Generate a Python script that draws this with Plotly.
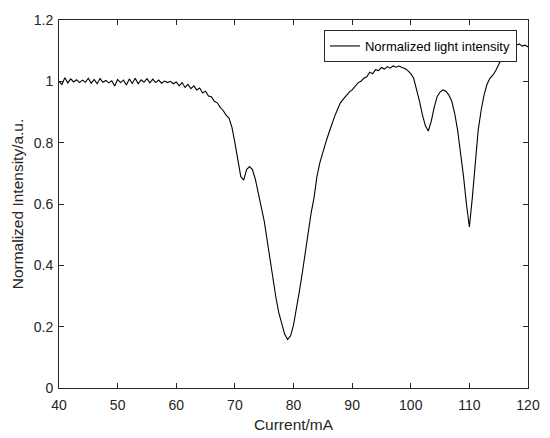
import plotly.graph_objects as go

current_mA = [40.0 + 0.5 * i for i in range(161)]
intensity = [
    1.000, 0.990, 1.012, 0.995, 1.008, 0.998, 1.005, 0.996, 1.004, 0.997,
    1.010, 0.994, 1.006, 0.992, 1.009, 0.997, 1.003, 0.995, 1.002, 0.985,
    1.006, 0.996, 1.004, 0.988, 1.008, 0.993, 1.010, 0.992, 1.005, 0.997,
    1.009, 0.995, 1.007, 0.996, 1.004, 0.994, 1.001, 0.996, 1.000, 0.992,
    0.998, 0.985, 0.996, 0.980, 0.990, 0.976, 0.985, 0.972, 0.978, 0.962,
    0.968, 0.952, 0.950, 0.935, 0.930, 0.915, 0.905, 0.890, 0.880, 0.850,
    0.800, 0.745, 0.690, 0.678, 0.712, 0.722, 0.712, 0.680, 0.640, 0.590,
    0.545, 0.480, 0.415, 0.355, 0.295, 0.245, 0.205, 0.175, 0.158, 0.170,
    0.205, 0.255, 0.315, 0.375, 0.440, 0.510, 0.570, 0.620, 0.690, 0.735,
    0.770, 0.800, 0.830, 0.860, 0.885, 0.908, 0.930, 0.942, 0.955, 0.965,
    0.972, 0.985, 0.995, 1.000, 1.010, 1.015, 1.030, 1.025, 1.038, 1.035,
    1.045, 1.040, 1.048, 1.043, 1.050, 1.046, 1.050, 1.045, 1.042, 1.035,
    1.025, 1.010, 0.975, 0.935, 0.890, 0.855, 0.838, 0.870, 0.915, 0.950,
    0.965, 0.972, 0.968, 0.955, 0.935, 0.895, 0.840, 0.770, 0.690, 0.600,
    0.525, 0.620, 0.740, 0.840, 0.905, 0.955, 0.990, 1.010, 1.020, 1.035,
    1.055, 1.075, 1.095, 1.110, 1.118, 1.125, 1.118, 1.122, 1.115, 1.118,
    1.112,
]
x_ticks = [40, 50, 60, 70, 80, 90, 100, 110, 120]
y_ticks = [0, 0.2, 0.4, 0.6, 0.8, 1.0, 1.2]
y_tick_labels = ["0", "0.2", "0.4", "0.6", "0.8", "1", "1.2"]

axis_color = "#262626"
family = "Liberation Sans, Arial, sans-serif"
tick_font = dict(family=family, size=14, color=axis_color)
title_font = dict(family=family, size=15.5, color=axis_color)

fig = go.Figure()
fig.add_trace(go.Scatter(
    x=current_mA, y=intensity, mode="lines",
    line=dict(color="black", width=1.1),
    name="Normalized light intensity",
))

common = dict(showline=True, linecolor=axis_color, linewidth=1, mirror="ticks",
              ticks="inside", ticklen=5, tickcolor=axis_color, showgrid=False,
              zeroline=False, tickfont=tick_font, automargin=False)
fig.update_xaxes(range=[40, 120], tickvals=x_ticks, ticklabelstandoff=4,
                 title=dict(text="Current/mA", font=title_font, standoff=7), **common)
fig.update_yaxes(range=[0, 1.2], tickvals=y_ticks, ticktext=y_tick_labels, ticklabelstandoff=2,
                 title=dict(text="Normalized Intensity/a.u.", font=title_font, standoff=6), **common)

# page body has an 8px margin, so the figure is sized to fit the 550x438 window
fig.update_layout(
    width=542, height=430,
    margin=dict(l=51, r=22, t=12, b=50),
    paper_bgcolor="white", plot_bgcolor="white",
    font=tick_font,
    showlegend=True,
    legend=dict(x=0.9765, y=0.9728, xanchor="right", yanchor="top",
                bordercolor=axis_color, borderwidth=1, bgcolor="white",
                font=dict(family=family, size=13, color="black"),
                tracegroupgap=0, itemwidth=30),
)

fig.write_html("out.html")
